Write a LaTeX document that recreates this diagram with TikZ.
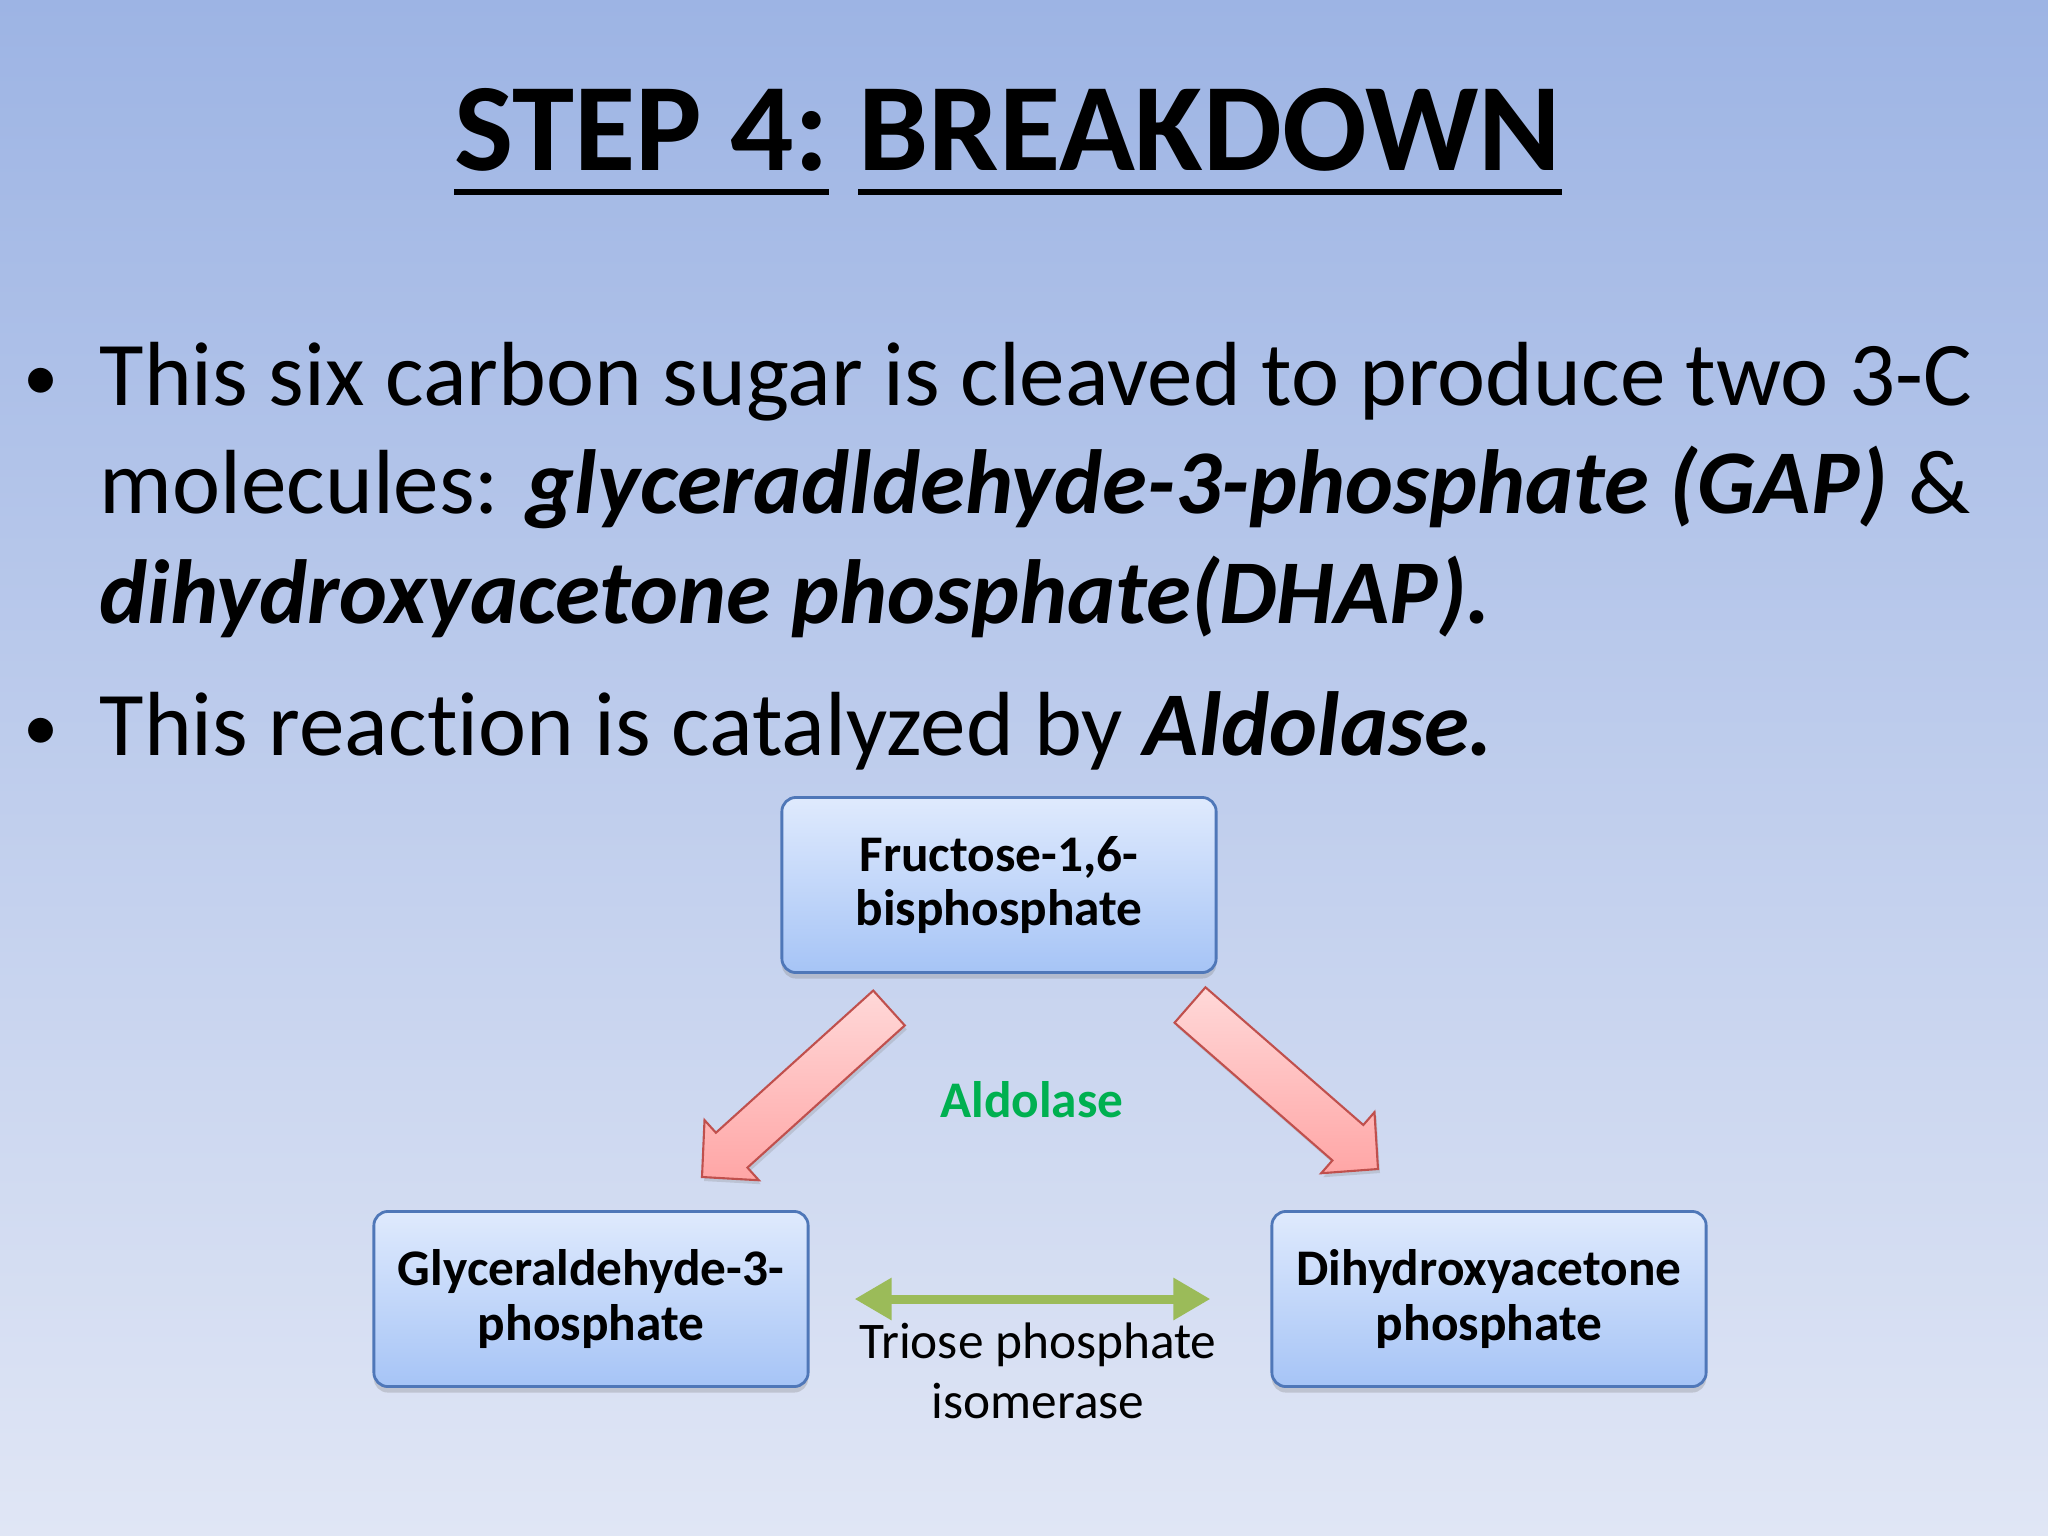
\documentclass[tikz,border=0pt]{standalone}
\usepackage{fontspec}
\setmainfont{Carlito}[Ligatures=NoCommon]
\usetikzlibrary{calc,shadows,arrows.meta}
\definecolor{bgtop}{RGB}{157,180,228}
\definecolor{bgbot}{RGB}{224,230,245}
\definecolor{boxtop}{RGB}{223,234,253}
\definecolor{boxbot}{RGB}{166,196,246}
\definecolor{boxline}{RGB}{79,119,184}
\definecolor{arrowline}{RGB}{192,80,77}
\definecolor{arrowtop}{RGB}{255,216,216}
\definecolor{arrowbot}{RGB}{255,166,166}
\definecolor{isogreen}{RGB}{155,187,89}
\definecolor{aldgreen}{RGB}{0,176,80}
\tikzset{
	titletext/.style={anchor=base west, inner sep=0, font=\fontsize{35.6}{40}\selectfont\bfseries},
	bodytext/.style={anchor=base west, inner sep=0, font=\fontsize{25.9}{30}\selectfont},
	bulletdot/.style={anchor=base, inner sep=0, font=\fontsize{20}{24}\selectfont},
	molbox/.style={draw=boxline, line width=0.8pt, rounded corners=0.14cm, top color=boxtop, bottom color=boxbot, minimum width=4.34cm, minimum height=1.75cm, align=center, font=\fontsize{14.6}{15.6}\selectfont\bfseries, drop shadow={shadow xshift=0pt, shadow yshift=-0.06cm, opacity=0.3}},
	redarrow/.style={draw=arrowline, line width=0.6pt, line join=miter, top color=arrowtop, bottom color=arrowbot, drop shadow={shadow xshift=0.02cm, shadow yshift=-0.04cm, opacity=0.25}},
	isoarrow/.style={draw=isogreen, line width=0.09cm, {Triangle[length=0.37cm, width=0.4cm]}-{Triangle[length=0.37cm, width=0.4cm]}}
}
\newcommand{\blockarrow}[2]{%
	\coordinate (#1base) at ($(#2)!0.4cm!(#1)$);
	\draw[redarrow] ($(#1)!0.235cm!90:(#2)$) -- ($(#1base)!0.235cm!90:(#2)$) -- ($(#1base)!0.405cm!90:(#2)$) -- (#2) -- ($(#1base)!0.405cm!-90:(#2)$) -- ($(#1base)!0.235cm!-90:(#2)$) -- ($(#1)!0.235cm!-90:(#2)$) -- cycle;
}
\begin{document}
\begin{tikzpicture}[x=0.01cm, y=-0.01cm]
	\shade [top color=bgtop, bottom color=bgbot] (0,0) rectangle (2048,1536);
	\node [titletext] (ttl1) at (454,170) {STEP 4:};
	\node [titletext] (ttl2) at (858,170) {BREAKDOWN};
	\draw [line width=0.06cm] ($(ttl1.base west)+(0,22)$) -- ($(ttl1.base east)+(0,22)$);
	\draw [line width=0.06cm] ($(ttl2.base west)+(0,22)$) -- ($(ttl2.base east)+(0,22)$);
	\node [bulletdot] (dot1) at (41,400) {•};
	\node [bodytext] (line1) at (99,405) {This six carbon sugar is cleaved to produce two 3-C};
	\node [bodytext] (line2) at (99,513) {molecules: \textbf{\textit{glyceradldehyde-3-phosphate (GAP)}} \&};
	\node [bodytext] (line3) at (99,623) {\textbf{\textit{dihydroxyacetone phosphate(DHAP).}}};
	\node [bulletdot] (dot2) at (41,750) {•};
	\node [bodytext] (line4) at (99,755) {This reaction is catalyzed by \textbf{\textit{Aldolase.}}};
	\node [molbox] (fbp) at (999,885) {Fructose-1,6-\\bisphosphate};
	\node [molbox] (gap) at (591,1299) {Glyceraldehyde-3-\\phosphate};
	\node [molbox] (dhap) at (1489,1299) {Dihydroxyacetone\\phosphate};
	\coordinate (ltail) at (889,1008);
	\coordinate (lhead) at (702,1177);
	\coordinate (rtail) at (1190,1005);
	\coordinate (rhead) at (1378,1169);
	\blockarrow{ltail}{lhead}
	\blockarrow{rtail}{rhead}
	\node [anchor=base, text=aldgreen, font=\fontsize{14.6}{15.6}\selectfont\bfseries] (ald) at (1032,1117) {Aldolase};
	\draw [isoarrow, shorten <=0.45cm, shorten >=0.6cm] (gap.east) -- (dhap.west);
	\node [align=center, font=\fontsize{14.6}{17.1}\selectfont] (tpi) at (1038,1371) {Triose phosphate\\isomerase};
\end{tikzpicture}
\end{document}
